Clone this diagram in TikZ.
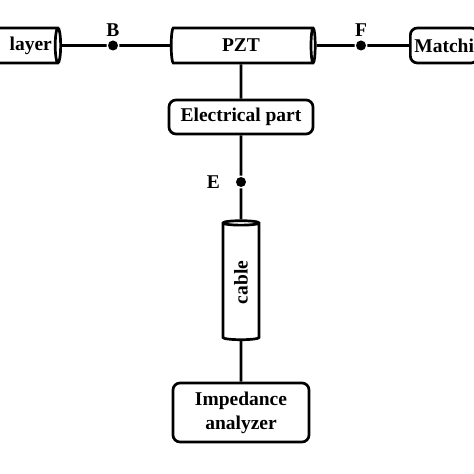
\documentclass[tikz,border=0pt]{standalone}
\usepackage{fontspec}
\setmainfont{Liberation Serif}
\usetikzlibrary{shapes.geometric}
\tikzset{
  part/.style={draw, cylinder, shape aspect=.25, inner sep=2pt, minimum width=35pt},
  box/.style={draw, rounded corners=7pt, inner sep=3pt, align=center},
  pt/.style={circle, fill, inner sep=0pt, minimum size=10pt},
}
\begin{document}
\begin{tikzpicture}[x=1pt, y=1pt, line width=2.7pt, font=\fontsize{19.5}{24}\selectfont\bfseries]
    \clip (0,0) rectangle (474,474);
    % top row: layer, PZT, matching
    \node[part, anchor=east, text width=70pt, align=right] (layer) at (62,428.5) {layer};
    \node[part, minimum height=144pt] (pzt) at (241,428.5) {PZT};
    \node[box, anchor=west, minimum height=35pt, inner xsep=4pt] (match) at (409,428.5) {Matchi};
    \node[pt, label={[label distance=-2pt]above:B}] (B) at (113,428.5) {};
    \node[pt, label={[label distance=-2pt]above:F}] (F) at (361,428.5) {};
    % electrical branch
    \node[box, minimum width=144pt, minimum height=34pt] (elec) at (241,357) {Electrical part};
    \node[pt, label={[label distance=10pt]left:E}] (E) at (241,292) {};
    \node[part, rotate=90, minimum height=119pt, minimum width=36pt] (cable) at (241,191.5) {cable};
    \node[box, minimum width=136pt, minimum height=59pt] (imp) at (241,61.5) {Impedance\\analyzer};
    \draw (layer) -- (B) -- (pzt) -- (F) -- (match);
    \draw (pzt) -- (elec) -- (E) -- (cable) -- (imp);
\end{tikzpicture}
\end{document}
